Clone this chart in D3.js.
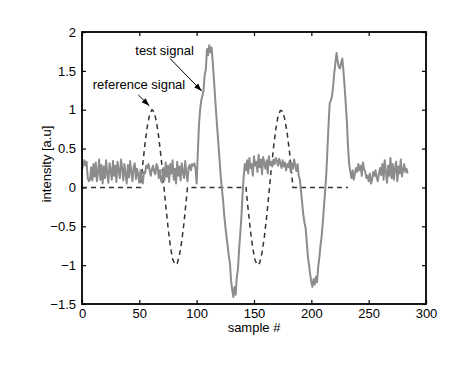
<!DOCTYPE html>
<html>
<head>
<meta charset="utf-8">
<script src="https://cdn.jsdelivr.net/npm/d3@7"></script>
<style>
  body { margin: 0; background: #fff; }
  svg { display: block; font-family: "Liberation Sans", Arial, Helvetica, sans-serif; }
  .tick text { font-size: 13px; fill: #000; }
</style>
</head>
<body>
<svg id="chart" width="474" height="368"></svg>
<script>
// measured test signal, one value per sample (0..284)
var testSignal = [
  0.22,0.30,0.35,0.28,0.33,0.12,0.08,0.10,0.26,0.09,0.30,0.14,0.32,0.08,0.20,0.36,0.10,0.29,0.05,0.27,
  0.12,0.35,0.18,0.06,0.31,0.22,0.10,0.34,0.15,0.28,0.07,0.33,0.21,0.12,0.36,0.25,0.09,0.30,0.17,0.05,
  0.29,0.13,0.34,0.20,0.08,0.26,0.31,0.11,0.24,0.16,0.06,0.22,0.12,0.05,0.20,0.18,0.28,0.25,0.30,0.22,
  0.15,0.24,0.28,0.20,0.17,0.30,0.26,0.12,0.22,0.08,0.06,0.25,0.10,0.32,0.14,0.28,0.07,0.30,0.18,0.35,
  0.10,0.24,0.05,0.33,0.15,0.27,0.09,0.31,0.20,0.12,0.34,0.18,0.08,0.26,0.29,0.22,0.30,0.28,0.31,0.24,
  0.05,
  0.45,0.80,1.00,1.12,1.18,1.25,1.45,1.52,1.78,1.70,1.83,1.74,1.80,1.62,1.40,1.18,0.96,0.75,0.55,0.35,
  0.14,-0.02,-0.16,-0.35,-0.50,-0.63,-0.75,-0.88,-0.97,-1.20,-1.32,-1.41,-1.28,-1.38,-1.15,-1.05,-0.80,-0.60,-0.38,-0.10,
  0.14,0.30,
  0.22,0.35,0.18,0.38,0.25,0.30,0.15,0.40,0.28,0.33,0.20,0.42,0.26,0.36,0.17,0.39,0.31,0.24,
  0.35,0.18,0.40,0.29,0.33,0.27,0.36,0.30,0.38,0.34,0.28,0.37,0.31,0.25,0.35,0.27,0.32,0.22,0.30,0.26,
  0.34,0.20,0.31,0.24,0.36,0.28,0.21,0.30,0.15,0.10,
  -0.05,-0.20,-0.35,-0.45,-0.52,-0.70,-0.89,-1.00,-1.12,-1.22,-1.28,-1.18,-1.25,-1.15,-1.22,-1.02,-0.90,-0.75,-0.63,-0.45,
  -0.25,-0.05,0.15,0.48,0.80,1.08,1.12,1.17,1.30,1.47,1.60,1.73,1.62,1.55,1.53,1.60,1.66,1.50,1.30,1.08,
  0.85,0.52,0.30,0.20,
  0.12,0.22,0.10,0.18,0.25,0.20,0.30,0.22,0.28,0.15,0.32,0.24,0.20,0.12,0.15,0.08,0.18,0.05,0.10,0.20,
  0.15,0.22,0.12,0.08,0.18,0.25,0.16,0.30,0.10,0.35,0.20,0.06,0.28,0.15,0.38,0.12,0.30,0.10,0.25,0.33,
  0.08,0.27,0.18,0.36,0.14,0.22,0.30,0.20,0.24,0.18
]

// reference signal (dashed), sample positions and values
var refX = [0, 51, 53, 55, 57, 59, 61, 63, 65, 67, 69, 71, 73, 75, 77, 79, 81, 83, 85, 87, 89, 91, 92,
  143, 145, 147, 149, 151, 153, 155, 157, 159, 161, 163, 165, 167, 169, 171, 173, 175, 177, 179, 181, 183, 184, 232]
var refY = [0, 0, 0.30, 0.57, 0.79, 0.94, 1.00, 0.97, 0.84, 0.64, 0.38, 0.08, -0.23, -0.51, -0.75, -0.92, -0.99, -0.98, -0.87, -0.69, -0.45, -0.15, 0,
  0, -0.30, -0.57, -0.79, -0.94, -1.00, -0.97, -0.84, -0.64, -0.38, -0.08, 0.23, 0.51, 0.75, 0.92, 0.99, 0.98, 0.87, 0.69, 0.45, 0.15, 0, 0]

var xTicks = [0, 50, 100, 150, 200, 250, 300]
var yTicks = [-1.5, -1, -0.5, 0, 0.5, 1, 1.5, 2]

// annotations in data units: [text x, text y, arrow from x, from y, to x, to y]
var labels = ["test signal", "reference signal"]
var labelPos = [[72, 1.71, 76.7, 1.66, 104.4, 1.24], [49.7, 1.27, 49.1, 1.19, 58.7, 1.05]]

var margin = { top: 32, right: 48, bottom: 64, left: 82 }
var svg = d3.select("#chart"),
  width = +svg.attr("width") - margin.left - margin.right,
  height = +svg.attr("height") - margin.top - margin.bottom

var g = svg.append("g").attr("transform", "translate(" + margin.left + "," + margin.top + ")")

var x = d3.scaleLinear().domain([0, 300]).range([0, width])
var y = d3.scaleLinear().domain([-1.5, 2]).range([height, 0])

var fmt = function (d) { return d3.format("")(d).replace("-", "\u2212") }

// axes, ticks inward like matlab
g.append("g").attr("transform", "translate(0," + height + ")")
  .call(d3.axisBottom(x).tickValues(xTicks).tickSizeInner(-4).tickSizeOuter(0).tickPadding(5).tickFormat(fmt))
g.append("g")
  .call(d3.axisTop(x).tickValues(xTicks).tickSizeInner(-4).tickSizeOuter(0).tickFormat(""))
g.append("g")
  .call(d3.axisLeft(y).tickValues(yTicks).tickSizeInner(-4).tickSizeOuter(0).tickPadding(6).tickFormat(fmt))
g.append("g").attr("transform", "translate(" + width + ",0)")
  .call(d3.axisRight(y).tickValues(yTicks).tickSizeInner(-4).tickSizeOuter(0).tickFormat(""))

g.selectAll(".domain").remove()
g.selectAll(".tick line").attr("stroke", "#000").attr("stroke-width", 1.2)

// reference signal
var refLine = d3.line().x(function (d, i) { return x(refX[i]) }).y(function (d) { return y(d) })
g.append("path")
  .datum(refY)
  .attr("fill", "none")
  .attr("stroke", "#333")
  .attr("stroke-width", 1.5)
  .attr("stroke-dasharray", "5,4")
  .attr("d", refLine)

// test signal
var testLine = d3.line().x(function (d, i) { return x(i) }).y(function (d) { return y(d) })
g.append("path")
  .datum(testSignal)
  .attr("fill", "none")
  .attr("stroke", "#8c8c8c")
  .attr("stroke-width", 2)
  .attr("stroke-linejoin", "round")
  .attr("d", testLine)

// box
g.append("rect")
  .attr("width", width).attr("height", height)
  .attr("fill", "none").attr("stroke", "#000").attr("stroke-width", 1.8)

// arrows
svg.append("defs").append("marker")
  .attr("id", "head")
  .attr("viewBox", "0 0 10 10")
  .attr("refX", 10).attr("refY", 5)
  .attr("markerWidth", 8).attr("markerHeight", 8)
  .attr("markerUnits", "userSpaceOnUse")
  .attr("orient", "auto")
  .append("path").attr("d", "M0,1.5 L10,5 L0,8.5 Z").attr("fill", "#000")

labels.forEach(function (t, i) {
  var p = labelPos[i]
  g.append("text")
    .attr("x", x(p[0])).attr("y", y(p[1]))
    .attr("text-anchor", "middle")
    .attr("font-size", 13)
    .text(t)
  g.append("line")
    .attr("x1", x(p[2])).attr("y1", y(p[3]))
    .attr("x2", x(p[4])).attr("y2", y(p[5]))
    .attr("stroke", "#000").attr("stroke-width", 1)
    .attr("marker-end", "url(#head)")
})

// axis labels
g.append("text")
  .attr("x", width / 2).attr("y", height + 28)
  .attr("text-anchor", "middle").attr("font-size", 13)
  .text("sample #")
g.append("text")
  .attr("transform", "translate(-31," + (height / 2 - 4) + ") rotate(-90)")
  .attr("text-anchor", "middle").attr("font-size", 13)
  .text("intensity [a.u]")
</script>
</body>
</html>
